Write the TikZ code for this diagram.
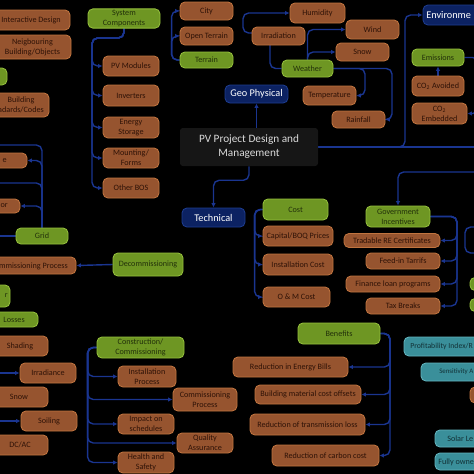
\documentclass[tikz,border=0pt]{standalone}
\usepackage{fontspec}
\setmainfont{Carlito}
\usetikzlibrary{arrows.meta}
\pgfdeclarelayer{back}
\pgfdeclarelayer{links}
\pgfsetlayers{back,links,main}

\definecolor{ofill}{HTML}{96542F}
\definecolor{oline}{HTML}{C0743F}
\definecolor{otext}{HTML}{2E1207}
\definecolor{gfill}{HTML}{6E9623}
\definecolor{gline}{HTML}{94BF3C}
\definecolor{gtext}{HTML}{22300A}
\definecolor{nfill}{HTML}{0C2262}
\definecolor{nline}{HTML}{1D3C8F}
\definecolor{tfill}{HTML}{3A8F9A}
\definecolor{tline}{HTML}{63B3BD}
\definecolor{ttext}{HTML}{123035}
\definecolor{cfill}{HTML}{161616}
\definecolor{ctext}{HTML}{DADADA}
\definecolor{lcol}{HTML}{1A3590}

\tikzset{
  mapbox/.style={rounded corners=3.5pt, line width=0.6pt, inner sep=1pt,
    align=center, font=\fontsize{5.8}{7}\selectfont},
  orbox/.style={mapbox, draw=oline, fill=ofill, text=otext},
  grbox/.style={mapbox, draw=gline, fill=gfill, text=gtext},
  navybox/.style={mapbox, draw=nline, fill=nfill, text=white,
    font=\fontsize{7.3}{8.5}\selectfont},
  tlbox/.style={mapbox, draw=tline, fill=tfill, text=ttext},
  sz/.style 2 args={minimum width=#1*0.025cm, minimum height=#2*0.025cm},
  fragtext/.style={inner sep=0pt, font=\fontsize{5.8}{7}\selectfont},
  link/.style={draw=lcol, line width=1pt, rounded corners=4pt},
  arr/.style={link, -{Latex[length=3.2pt,width=3.2pt]}},
}

\begin{document}
\begin{tikzpicture}[x=0.025cm, y=-0.025cm]
    \useasboundingbox (0,0) rectangle (474,474);
    \begin{pgfonlayer}{back}
      \fill[black] (0,0) rectangle (474,474);
    \end{pgfonlayer}

    % centre
    \node[fill=cfill, rounded corners=2pt, text=ctext, align=center,
      font=\fontsize{8}{10}\selectfont, sz={138}{38}] (pvpd) at (249,147)
      {PV Project Design and\\Management};
    \node[navybox, sz={63}{18}] (geo) at (256.5,94) {Geo Physical};
    \node[navybox, sz={63}{19}] (tech) at (213.5,217.5) {Technical};
    \node[navybox, sz={97}{20}] (env) at (471.5,15) {};
    \node[fragtext, text=white, font=\fontsize{7.3}{8.5}\selectfont, anchor=west]
      (envtx) at (426,15) {Environme};

    % geo physical
    \node[grbox, sz={53}{16}] (terrain) at (206.5,60) {Terrain};
    \node[orbox, sz={53}{18}] (city) at (206.5,11) {City};
    \node[orbox, sz={53}{18}] (opent) at (206.5,36) {Open Terrain};
    \node[grbox, sz={51}{17}] (weather) at (307.5,68.5) {Weather};
    \node[orbox, sz={55}{20}] (humid) at (317.5,13) {Humidity};
    \node[orbox, sz={53}{18}] (irr) at (278.5,36) {Irradiation};
    \node[orbox, sz={53}{19}] (wind) at (372.5,29.5) {Wind};
    \node[orbox, sz={53}{18}] (snowt) at (362.5,52) {Snow};
    \node[orbox, sz={53}{19}] (temp) at (329.5,95.5) {Temperature};
    \node[orbox, sz={53}{17}] (rain) at (358.5,119.5) {Rainfall};

    % environment
    \node[grbox, sz={52}{17}] (emis) at (438,57.5) {Emissions};
    \node[orbox, sz={52}{20}] (co2a) at (438,86) {CO\textsubscript{2} Avoided};
    \node[orbox, sz={55}{21}] (co2e) at (439.5,113.5) {CO\textsubscript{2}\\Embedded};

    % top left
    \node[orbox, sz={78}{20}] (intd) at (31,20) {Interactive Design};
    \node[orbox, sz={77}{24}] (neigh) at (32.5,47) {Neigbouring\\Building/Objects};
    \node[grbox, sz={47}{17}] (grtl) at (-16.5,76.5) {};
    \node[orbox, sz={56}{24}] (bstd) at (21,105) {Building\\adards/Codes};

    % system components
    \node[grbox, sz={72}{19}] (sysc) at (124,18.5) {System\\Components};
    \node[orbox, sz={56}{20}] (pvmod) at (131,66) {PV Modules};
    \node[orbox, sz={56}{21}] (inv) at (131,95.5) {Inverters};
    \node[orbox, sz={56}{21}] (estor) at (131,127.5) {Energy\\Storage};
    \node[orbox, sz={56}{20}] (mount) at (131,158) {Mounting/\\Forms};
    \node[orbox, sz={56}{20}] (obos) at (131,188) {Other BOS};

    % grid and decommissioning
    \node[orbox, sz={67}{15}] (gride) at (-6.5,160.5) {};
    \node[fragtext, text=otext, anchor=east] (gridetx) at (7,160.5) {e};
    \node[orbox, sz={60}{14}] (gridor) at (-10,206) {};
    \node[fragtext, text=otext, anchor=east] (gridortx) at (8,206) {or};
    \node[grbox, sz={52}{16}] (grid) at (42,236) {Grid};
    \node[orbox, sz={116}{17}] (dproc) at (18,265.5) {};
    \node[fragtext, text=otext, anchor=east] (dproctx) at (68,266) {mmissioning Process};
    \node[grbox, sz={70}{23}] (decom) at (148,264.5) {Decommissioning};
    \node[grbox, sz={50}{22}] (grr) at (-15,296) {};
    \node[fragtext, text=gtext, anchor=east] (grrtx) at (8,296) {r};
    \node[grbox, sz={78}{15}] (loss) at (-1,319.5) {};
    \node[fragtext, text=gtext, anchor=east] (losstx) at (25,320) {Losses};

    % losses
    \node[orbox, sz={56}{20}] (shade) at (20,346) {Shading};
    \node[orbox, sz={56}{20}] (irrl) at (48,373) {Irradiance};
    \node[orbox, sz={58}{20}] (snowl) at (19,397) {Snow};
    \node[orbox, sz={56}{20}] (soil) at (49,421) {Soiling};
    \node[orbox, sz={56}{20}] (dcac) at (20,445) {DC/AC};

    % construction
    \node[grbox, sz={87}{21}] (cons) at (140.5,347.5) {Construction/\\Commissioning};
    \node[orbox, sz={58}{21}] (instp) at (147,376.5) {Installation\\Process};
    \node[orbox, sz={64}{23}] (commp) at (205,399.5) {Commissioning\\Process};
    \node[orbox, sz={56}{20}] (impact) at (146,424) {Impact on\\schedules};
    \node[orbox, sz={56}{20}] (qa) at (205,443) {Quality\\Assurance};
    \node[orbox, sz={56}{21}] (hs) at (146,462.5) {Health and\\Safety};

    % cost
    \node[grbox, sz={65}{21}] (cost) at (295.5,209.5) {Cost};
    \node[orbox, sz={70}{20}] (capex) at (298,236) {Capital/BOQ Prices};
    \node[orbox, sz={70}{21}] (instc) at (298,264.5) {Installation Cost};
    \node[orbox, sz={67}{20}] (omc) at (296.5,297) {O \& M Cost};

    % incentives
    \node[grbox, sz={64}{21}] (govi) at (398,216.5) {Government\\Incentives};
    \node[orbox, sz={96}{14}] (trec) at (392,240.5) {Tradable RE Certificates};
    \node[orbox, sz={74}{16}] (fit) at (403,261) {Feed-in Tarrifs};
    \node[orbox, sz={94}{16}] (flp) at (393,284) {Finance loan programs};
    \node[orbox, sz={74}{16}] (taxb) at (403,306) {Tax Breaks};
    \node[grbox, sz={50}{13}] (grra) at (495,284) {};
    \node[grbox, sz={50}{13}] (grrb) at (495,305) {};

    % benefits
    \node[grbox, sz={82}{21}] (benef) at (339,333.5) {Benefits};
    \node[orbox, sz={115}{20}] (reb) at (290.5,367) {Reduction in Energy Bills};
    \node[orbox, sz={106}{19}] (bmc) at (308,394.5) {Building material cost offsets};
    \node[orbox, sz={115}{21}] (rtl) at (307.5,424.5) {Reduction of transmission loss};
    \node[orbox, sz={107}{21}] (rcc) at (325.5,455.5) {Reduction of carbon cost};

    % financial
    \node[tlbox, sz={116}{19}] (profit) at (462,346.5) {};
    \node[fragtext, text=ttext, font=\fontsize{5.5}{6.5}\selectfont, anchor=west]
      (profittx) at (410,346.5) {Profitability Index/R};
    \node[tlbox, sz={99}{18}] (sens) at (470.5,372) {};
    \node[fragtext, text=ttext, font=\fontsize{4.9}{6}\selectfont, anchor=west]
      (senstx) at (439,372) {Sensitivity A};
    \node[orbox, sz={50}{16}] (orr) at (495,395) {};
    \node[tlbox, sz={85}{17}] (solar) at (477.5,438.5) {};
    \node[fragtext, text=ttext, anchor=west] (solartx) at (447,438.5) {Solar Le};
    \node[tlbox, sz={85}{17}] (fully) at (477.5,461.5) {};
    \node[fragtext, text=ttext, anchor=west] (fullytx) at (438,462) {Fully owne};

    % ends off the page
    \coordinate (offecon) at (480,147);
    \coordinate (offfin) at (480,172);
    \coordinate (offfinb) at (480,227);
    \coordinate (offfinc) at (480,253);
    \coordinate (offga) at (-10,145);
    \coordinate (offgb) at (-10,183);
    \coordinate (offgc) at (-10,236);
    \coordinate (offla) at (-10,373);
    \coordinate (offlb) at (-10,421);

    \begin{pgfonlayer}{links}
    \foreach \c in {pvmod,inv,estor,mount,obos}
      \draw[arr] (sysc.south) |- (92,38) |- (\c.west);
    \foreach \c in {city,opent}
      \draw[arr] (terrain.west) -- ++(-8,0) |- (\c.west);
    \draw[arr] (weather.west) -- (270,68.5) -- (270,33) -- (243,33) |- (humid.west);
    \foreach \c in {wind,snowt}
      \draw[arr] (weather.north) |- (\c.west);
    \draw[arr] (weather.east) -- (365,68.5) |- (temp.east);
    \draw[arr] (weather.east) -- (392,68.5) |- (rain.east);
    \draw[arr] (co2a.north) -- (emis.south);
    \draw[arr] (emis.east) -- ++(14,0) |- (co2e.east);

    \draw[arr] (pvpd.north -| geo.south) -- (geo.south);
    \draw[arr] (pvpd.south) -- ++(0,14) -| (tech.north);
    \draw[arr] (pvpd.east) -- (405,147) |- (env.west);
    \draw[link] (pvpd.east) -- (offecon);

    \draw[arr] (offfin) -| (govi.north);
    \draw[link] (offfinb) -- (465,227) -- (465,253) -- (offfinc);
    \foreach \c in {trec,fit,flp,taxb}
      \draw[arr] (govi.east) -- (457,216.5) |- (\c.east);
    \foreach \c in {capex,instc,omc}
      \draw[arr] (cost.west) -- ++(-8,0) |- (\c.west);

    \foreach \c in {gride,gridor}
      \draw[arr] (grid.north) |- (\c.east);
    \foreach \c in {offga,offgb}
      \draw[link] (grid.north) |- (\c);
    \draw[link] (offgc) -- (grid.west);
    \draw[arr] (decom.west) -- (dproc.east);

    \foreach \c in {instp,commp,impact,qa,hs}
      \draw[arr] (cons.west) -- ++(-9,0) |- (\c.west);
    \foreach \c in {reb,bmc,rtl,rcc}
      \draw[arr] (benef.east) -- (390,333.5) |- (\c.east);
    \draw[arr] (offla) -- (irrl.west);
    \draw[arr] (offlb) -- (soil.west);
    \end{pgfonlayer}
\end{tikzpicture}
\end{document}
